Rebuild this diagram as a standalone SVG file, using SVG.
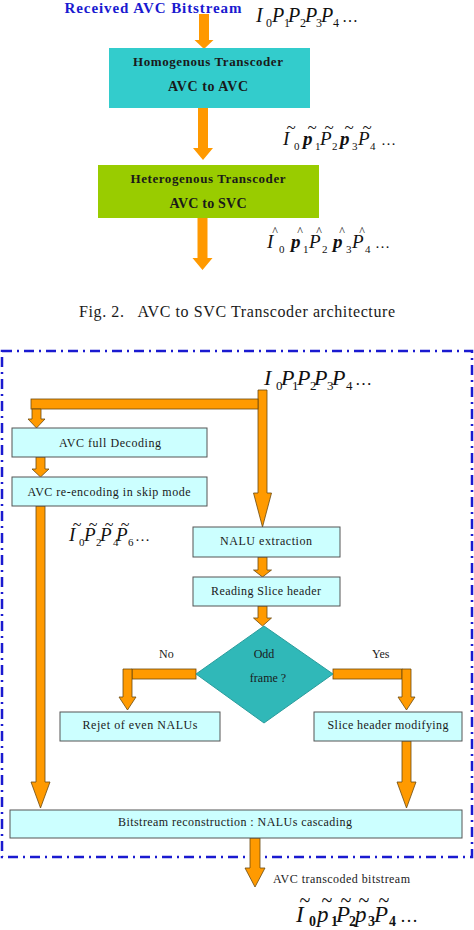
<svg xmlns="http://www.w3.org/2000/svg" width="474" height="930" viewBox="0 0 474 930">
<style>
.t{font-family:"Liberation Serif","Times New Roman",serif;fill:#1a1a1a}
.b{font-weight:bold}
.m{font-family:"Liberation Serif","Times New Roman",serif;font-style:italic;fill:#111}
.s{font-style:normal}
.acc{font-family:"Liberation Serif",serif;fill:#111;text-anchor:middle}
.box{fill:#ccffff;stroke:#555;stroke-width:1}
.arr{fill:#ff9a00;stroke:#6b4a10;stroke-width:0.8}
.arrT{fill:#ff9900}
.c{text-anchor:middle}
</style>
<rect width="474" height="930" fill="#fff"/>

<!-- top architecture -->
<text class="t b" x="153" y="12.5" font-size="15" text-anchor="middle" style="fill:#1a1ad0" textLength="177">Received AVC Bitstream</text>
<g id="connectors-top">
<path class="arrT" d="M199,14 H209 V40 H213.5 L204,49 L194.5,40 H199 Z"/>
<path class="arrT" d="M198,108 H208 V148 H213 L203,160 L193,148 H198 Z"/>
<path class="arrT" d="M197.5,218 H207.5 V258 H212.5 L202.5,270 L192.5,258 H197.5 Z"/>
</g>
<g id="homogenous">
<rect x="109" y="48" width="201" height="60" fill="#33cccc"/>
<text class="t b c" x="208" y="66" font-size="13" textLength="150">Homogenous Transcoder</text>
<text class="t b c" x="208" y="91" font-size="14" textLength="80">AVC to AVC</text>
</g>
<g id="heterogenous">
<rect x="98" y="165" width="221" height="53" fill="#99cc00"/>
<text class="t b c" x="208" y="183" font-size="13" textLength="155">Heterogenous Transcoder</text>
<text class="t b c" x="208" y="208" font-size="14" textLength="77">AVC to SVC</text>
</g>

<!-- label A -->
<text class="m" font-size="20" y="22"><tspan x="256">I</tspan><tspan x="266" y="27" font-size="12" class="s">0</tspan><tspan x="272" y="22">P</tspan><tspan x="284" y="27" font-size="12" class="s">1</tspan><tspan x="288" y="22">P</tspan><tspan x="300" y="27" font-size="12" class="s">2</tspan><tspan x="305" y="22">P</tspan><tspan x="316" y="27" font-size="12" class="s">3</tspan><tspan x="321" y="22">P</tspan><tspan x="333" y="27" font-size="12" class="s">4</tspan><tspan x="342" y="22" font-size="16" class="s">…</tspan></text>

<!-- label B -->
<text class="m" font-size="19" y="145"><tspan x="283">I</tspan><tspan x="294" y="150" font-size="11" class="s">0</tspan><tspan x="303" y="145" font-weight="bold">p</tspan><tspan x="315" y="150" font-size="11" class="s">1</tspan><tspan x="320" y="145">P</tspan><tspan x="332" y="150" font-size="11" class="s">2</tspan><tspan x="340" y="145" font-weight="bold">p</tspan><tspan x="352" y="150" font-size="11" class="s">3</tspan><tspan x="358" y="145">P</tspan><tspan x="370" y="150" font-size="11" class="s">4</tspan><tspan x="381" y="145" font-size="15" class="s">…</tspan></text>
<g class="acc" font-size="17"><text x="291" y="133">~</text><text x="312" y="133">~</text><text x="329" y="133">~</text><text x="349" y="133">~</text><text x="367" y="133">~</text></g>

<!-- label C -->
<text class="m" font-size="19" y="248"><tspan x="267">I</tspan><tspan x="279" y="253" font-size="11" class="s">0</tspan><tspan x="291" y="248" font-weight="bold">p</tspan><tspan x="303" y="253" font-size="11" class="s">1</tspan><tspan x="309" y="248">P</tspan><tspan x="322" y="253" font-size="11" class="s">2</tspan><tspan x="333" y="248" font-weight="bold">p</tspan><tspan x="346" y="253" font-size="11" class="s">3</tspan><tspan x="352" y="248">P</tspan><tspan x="365" y="253" font-size="11" class="s">4</tspan><tspan x="375" y="248" font-size="15" class="s">…</tspan></text>
<g class="acc" font-size="12"><text x="275" y="235">^</text><text x="300" y="235">^</text><text x="319" y="235">^</text><text x="342" y="235">^</text><text x="362" y="235">^</text></g>

<text class="t" x="79" y="317" font-size="16" textLength="316" xml:space="preserve">Fig. 2.   AVC to SVC Transcoder architecture</text>

<!-- bottom flowchart -->
<rect x="2" y="351" width="470" height="506" fill="none" stroke="#1a1ad0" stroke-width="2.5" stroke-dasharray="10 5 2 5"/>

<!-- label F -->
<text class="m" font-size="22" y="385"><tspan x="264">I</tspan><tspan x="276" y="390" font-size="13" class="s">0</tspan><tspan x="281" y="385">P</tspan><tspan x="292" y="390" font-size="13" class="s">1</tspan><tspan x="297" y="385">P</tspan><tspan x="310" y="390" font-size="13" class="s">2</tspan><tspan x="314" y="385">P</tspan><tspan x="327" y="390" font-size="13" class="s">3</tspan><tspan x="332" y="385">P</tspan><tspan x="346" y="390" font-size="13" class="s">4</tspan><tspan x="355" y="385" font-size="17" class="s">…</tspan></text>

<g id="connectors">
<path class="arr" d="M258,390 H267 V493 H271.5 L262.5,527 L253.5,493 H258 Z"/>
<rect class="arr" x="31" y="399" width="227" height="10"/>
<path class="arr" d="M32,409 H41 V419 H45 L36.5,428 L28,419 H32 Z"/>
<path class="arr" d="M36,457 H45 V469 H49 L40.5,477 L32,469 H36 Z"/>
<path class="arr" d="M36,506 H45 V782 H50 L40.5,808 L31,782 H36 Z"/>
<path class="arr" d="M258,557 H267 V570 H271.5 L262.5,577 L253.5,570 H258 Z"/>
<path class="arr" d="M258,606 H267 V618 H271.5 L262.5,626 L253.5,618 H258 Z"/>
<rect class="arr" x="132" y="669" width="64" height="10"/>
<path class="arr" d="M123,669 H132 V697 H136 L127.5,710 L119,697 H123 Z"/>
<rect class="arr" x="333" y="669" width="69" height="10"/>
<path class="arr" d="M402,669 H411 V697 H415 L406.5,710 L398,697 H402 Z"/>
<path class="arr" d="M402,741 H411 V782 H416 L406.5,808 L397,782 H402 Z"/>
<path class="arr" d="M250,838 H260 V868 H265 L255,887 L245,868 H250 Z"/>
</g>

<g id="decoding"><rect class="box" x="12" y="428" width="195" height="29"/><text class="t c" x="110" y="447" font-size="12" textLength="102">AVC full Decoding</text></g>
<g id="reencoding"><rect class="box" x="12" y="477" width="195" height="29"/><text class="t c" x="109" y="496" font-size="12" textLength="163">AVC re-encoding in skip mode</text></g>
<g id="nalu"><rect class="box" x="193" y="527" width="147" height="30"/><text class="t c" x="266" y="545" font-size="12" textLength="92">NALU extraction</text></g>
<g id="reading"><rect class="box" x="193" y="577" width="147" height="29"/><text class="t c" x="266" y="595" font-size="12" textLength="110">Reading Slice header</text></g>
<g id="odd">
<polygon points="264,626 333,674 264,723 196,674" fill="#30b8b8" stroke="#2a9c9c" stroke-width="1"/>
<text class="t c" x="264" y="658" font-size="12">Odd</text>
<text class="t c" x="268" y="682" font-size="12">frame ?</text>
</g>
<text class="t" x="159" y="658" font-size="12">No</text>
<text class="t" x="372" y="658" font-size="12">Yes</text>
<g id="rejet"><rect class="box" x="60" y="712" width="160" height="29"/><text class="t c" x="140" y="729" font-size="12" textLength="115">Rejet of even NALUs</text></g>
<g id="slice"><rect class="box" x="314" y="712" width="148" height="29"/><text class="t c" x="388" y="729" font-size="12" textLength="121">Slice header modifying</text></g>
<g id="bitstream"><rect class="box" x="10" y="810" width="452" height="28"/><text class="t c" x="235" y="826" font-size="12" textLength="234">Bitstream reconstruction : NALUs cascading</text></g>

<!-- label E -->
<text class="m" font-size="19" y="541"><tspan x="69">I</tspan><tspan x="79" y="546" font-size="11" class="s">0</tspan><tspan x="84" y="541">P</tspan><tspan x="96" y="546" font-size="11" class="s">2</tspan><tspan x="100" y="541">P</tspan><tspan x="113" y="546" font-size="11" class="s">4</tspan><tspan x="116" y="541">P</tspan><tspan x="128" y="546" font-size="11" class="s">6</tspan><tspan x="135" y="541" font-size="15" class="s">…</tspan></text>
<g class="acc" font-size="16"><text x="77" y="530">~</text><text x="93" y="530">~</text><text x="109" y="530">~</text><text x="125" y="530">~</text></g>

<text class="t" x="273" y="883" font-size="12" textLength="137">AVC transcoded bitstream</text>

<!-- label D -->
<text class="m" font-size="23" y="922"><tspan x="296">I</tspan><tspan x="309" y="926" font-size="14" class="s" font-weight="bold">0</tspan><tspan x="317" y="922">p</tspan><tspan x="331" y="926" font-size="14" class="s" font-weight="bold">1</tspan><tspan x="336" y="922">P</tspan><tspan x="349" y="926" font-size="14" class="s" font-weight="bold">2</tspan><tspan x="355" y="922">p</tspan><tspan x="368" y="926" font-size="14" class="s" font-weight="bold">3</tspan><tspan x="374" y="922">P</tspan><tspan x="389" y="926" font-size="14" class="s" font-weight="bold">4</tspan><tspan x="400" y="922" font-size="18" class="s">…</tspan></text>
<g class="acc" font-size="20"><text x="305" y="907">~</text><text x="327" y="907">~</text><text x="346" y="907">~</text><text x="364" y="907">~</text><text x="384" y="907">~</text></g>
</svg>
